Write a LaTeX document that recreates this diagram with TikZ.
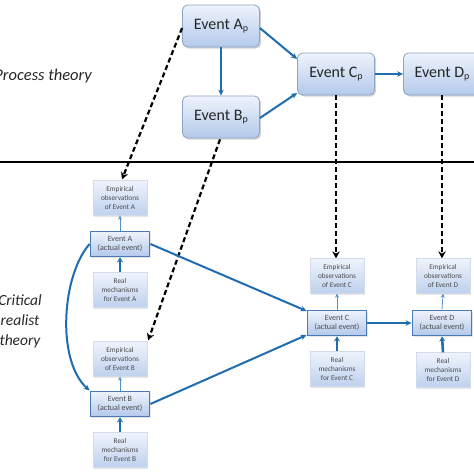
\documentclass[tikz,border=0pt]{standalone}
\usepackage{fontspec}
\setmainfont{Carlito}
\usetikzlibrary{shadows,arrows.meta,calc}
\definecolor{ablue}{HTML}{1F6DB0}
\definecolor{boxtop}{HTML}{EEF3FC}
\definecolor{boxbot}{HTML}{B3C9EB}
\definecolor{boxedge}{HTML}{8EA4C4}
\definecolor{evedge}{HTML}{4A7AB3}
\newcommand{\subp}{\raisebox{-0.3ex}{\fontsize{10}{10}\selectfont p}}
\tikzset{
  pbox/.style={draw=boxedge, line width=0.8pt, rounded corners=5pt, top color=boxtop, bottom color=boxbot,
    minimum width=77pt, minimum height=42pt, inner sep=0pt, font=\fontsize{16}{18}\selectfont, text=black!85,
    drop shadow={opacity=0.35, shadow xshift=1.5pt, shadow yshift=-1.5pt}},
  sbox/.style={draw=boxedge!40, line width=0.3pt, top color=boxtop, bottom color=boxbot!85,
    minimum width=54pt, minimum height=35pt, inner sep=0pt, align=center, font=\fontsize{7.3}{8.7}\selectfont, text=black!70,
    drop shadow={opacity=0.2, shadow xshift=1pt, shadow yshift=-1pt}},
  ebox/.style={draw=evedge, line width=1.8pt, top color=boxtop, bottom color=boxbot,
    minimum width=59pt, minimum height=25pt, inner sep=0pt, align=center, font=\fontsize{8}{9.5}\selectfont, text=black!70,
    drop shadow={opacity=0.2, shadow xshift=1pt, shadow yshift=-1pt}},
  barrow/.style={draw=ablue, line width=2pt, -{Stealth[length=6pt,width=5.5pt]}},
  thinarrow/.style={draw=ablue!75, line width=0.8pt, -{Stealth[length=4pt,width=4pt]}},
  thickarrow/.style={draw=ablue, line width=2.6pt, -{Stealth[length=5pt,width=6pt]}},
  darrow/.style={draw=black, line width=2.2pt, dash pattern=on 5pt off 3pt, -{Stealth[length=7pt,width=7.5pt]}},
  ital/.style={text=black!85, inner sep=0pt},
}
\begin{document}
\begin{tikzpicture}[x=1pt,y=-1pt]
\useasboundingbox (0,0) rectangle (474,474);
% separator
\coordinate (L1) at (0,162);
\coordinate (L2) at (474,162);
\draw[line width=1.4pt] (L1) -- (L2);
% labels
\node[ital, font=\fontsize{16.5}{20}\selectfont\itshape, anchor=base east] (pt) at (92,80) {Process theory};
\node[ital, font=\fontsize{15.5}{20}\selectfont\itshape, align=center] (crt) at (20,321) {Critical\\realist\\theory};
% process boxes
\node[pbox] (Ap) at (221,26) {Event A\subp};
\node[pbox] (Bp) at (221,117) {Event B\subp};
\node[pbox] (Cp) at (336,74) {Event C\subp};
\node[pbox] (Dp) at (442,74) {Event D\subp};
% critical realist boxes
\node[sbox] (Ea) at (120,198) {Empirical\\observations\\of Event A};
\node[ebox] (EvA) at (120,244) {Event A\\(actual event)};
\node[sbox] (Ra) at (120,290) {Real\\mechanisms\\for Event A};
\node[sbox] (Eb) at (120,359) {Empirical\\observations\\of Event B};
\node[ebox] (EvB) at (120,404) {Event B\\(actual event)};
\node[sbox] (Rb) at (120,450) {Real\\mechanisms\\for Event B};
\node[sbox] (Ec) at (337,276) {Empirical\\observations\\of Event C};
\node[ebox] (EvC) at (337,323) {Event C\\(actual event)};
\node[sbox] (Rc) at (337,369) {Real\\mechanisms\\for Event C};
\node[sbox] (Ed) at (443,276) {Empirical\\observations\\of Event D};
\node[ebox] (EvD) at (442,323) {Event D\\(actual event)};
\node[sbox] (Rd) at (443,370) {Real\\mechanisms\\for Event D};
% process arrows
\draw[barrow] (Ap.south) -- (Bp.north);
\draw[barrow] ($(Ap.east)+(0,2)$) -- ($(Cp.west)+(0,-15)$);
\draw[barrow] ($(Bp.east)+(0,1)$) -- ($(Cp.west)+(0,19)$);
\draw[barrow] (Cp.east) -- (Dp.west);
% dashed links
\draw[darrow] ($(Ap.west)+(0,2)$) -- ($(Ea.north)+(2,-1)$);
\draw[darrow] ($(Bp.south)+(-1,1)$) -- ($(Eb.north east)+(1,-1)$);
\draw[darrow] (Cp.south) -- (Cp.south |- Ec.north);
\draw[darrow] (Dp.south) -- (Dp.south |- Ed.north);
% critical realist arrows
\draw[thinarrow] (EvA.north) -- (Ea.south);
\draw[thinarrow] (EvB.north) -- (Eb.south);
\draw[thinarrow] (EvC.north) -- (Ec.south);
\draw[thinarrow] (EvD.north) -- (Ed.south);
\draw[thickarrow] (Ra.north) -- (EvA.south);
\draw[thickarrow] (Rb.north) -- (EvB.south);
\draw[thickarrow] (Rc.north) -- (EvC.south);
\draw[thickarrow] (Rd.north) -- (EvD.south);
\draw[barrow] (EvA.east) -- ($(EvC.west)+(0,-12)$);
\draw[barrow] (EvB.east) -- ($(EvC.west)+(0,12)$);
\draw[barrow] (EvC.east) -- (EvD.west);
\draw[barrow] (EvA.west) .. controls (62,275) and (56,360) .. (EvB.north west);
\end{tikzpicture}
\end{document}
